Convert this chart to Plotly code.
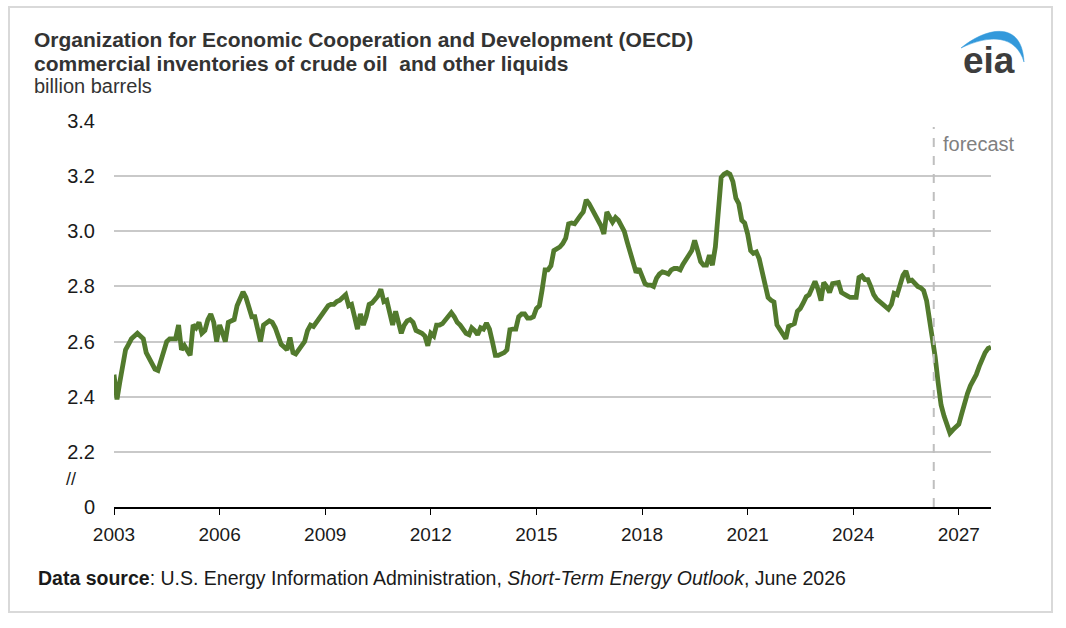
import plotly.graph_objects as go
import pandas as pd

# ---- data (billion barrels, monthly Jan 2003 - Dec 2027) ----
start_month = "2003-01-01"
inventories = [
    2.48, 2.39, 2.45, 2.51, 2.57, 2.59, 2.61, 2.62, 2.63, 2.62, 2.61, 2.56,   # 2003
    2.54, 2.52, 2.50, 2.495, 2.53, 2.57, 2.60, 2.61, 2.61, 2.61, 2.66, 2.57,  # 2004
    2.585, 2.57, 2.55, 2.66, 2.65, 2.67, 2.63, 2.64, 2.68, 2.70, 2.67, 2.60,  # 2005
    2.66, 2.63, 2.60, 2.67, 2.675, 2.68, 2.73, 2.76, 2.78, 2.76, 2.73, 2.69,  # 2006
    2.69, 2.63, 2.60, 2.66, 2.67, 2.675, 2.67, 2.65, 2.62, 2.59, 2.58, 2.57,  # 2007
    2.615, 2.56, 2.555, 2.57, 2.585, 2.60, 2.64, 2.66, 2.655, 2.67, 2.68, 2.70,  # 2008
    2.71, 2.73, 2.735, 2.735, 2.745, 2.75, 2.76, 2.77, 2.73, 2.735, 2.69, 2.645,  # 2009
    2.70, 2.66, 2.69, 2.735, 2.74, 2.75, 2.765, 2.79, 2.745, 2.75, 2.71, 2.66,  # 2010
    2.71, 2.67, 2.63, 2.66, 2.675, 2.68, 2.67, 2.64, 2.635, 2.63, 2.62, 2.585,  # 2011
    2.63, 2.62, 2.66, 2.66, 2.665, 2.68, 2.695, 2.705, 2.69, 2.67, 2.66, 2.643,  # 2012
    2.63, 2.625, 2.65, 2.64, 2.625, 2.65, 2.645, 2.667, 2.645, 2.60, 2.55, 2.55,  # 2013
    2.555, 2.56, 2.57, 2.643, 2.645, 2.645, 2.69, 2.70, 2.70, 2.685, 2.685, 2.69,  # 2014
    2.72, 2.73, 2.787, 2.86, 2.86, 2.875, 2.93, 2.935, 2.943, 2.955, 2.975, 3.027,  # 2015
    3.03, 3.027, 3.045, 3.057, 3.07, 3.114, 3.10, 3.08, 3.063, 3.045, 3.02, 2.99,  # 2016
    3.07, 3.05, 3.033, 3.05, 3.04, 3.02, 3.00, 2.96, 2.92, 2.895, 2.85, 2.865,  # 2017
    2.84, 2.81, 2.805, 2.805, 2.80, 2.83, 2.845, 2.853, 2.85, 2.845, 2.86, 2.865,  # 2018
    2.865, 2.86, 2.88, 2.90, 2.913, 2.93, 2.967, 2.93, 2.89, 2.877, 2.877, 2.913,  # 2019
    2.877, 2.943, 3.08, 3.195, 3.207, 3.213, 3.207, 3.18, 3.12, 3.10, 3.04, 3.03,  # 2020
    2.99, 2.93, 2.92, 2.925, 2.90, 2.85, 2.80, 2.76, 2.75, 2.744, 2.66, 2.643,  # 2021
    2.625, 2.61, 2.655, 2.66, 2.665, 2.71, 2.72, 2.74, 2.763, 2.77, 2.79, 2.818,  # 2022
    2.79, 2.748, 2.814, 2.80, 2.778, 2.81, 2.812, 2.814, 2.778, 2.77, 2.766, 2.76,  # 2023
    2.76, 2.76, 2.832, 2.838, 2.825, 2.825, 2.80, 2.77, 2.754, 2.745, 2.736, 2.73,  # 2024
    2.718, 2.735, 2.775, 2.77, 2.81, 2.84, 2.856, 2.82, 2.823, 2.81, 2.80, 2.795,  # 2025
    2.785, 2.748, 2.688, 2.616, 2.544, 2.45, 2.37, 2.33, 2.298, 2.268, 2.28, 2.29,  # 2026
    2.30, 2.34, 2.38, 2.412, 2.44, 2.46, 2.48, 2.51, 2.54, 2.56, 2.575, 2.58,  # 2027
]
months = pd.date_range(start_month, periods=len(inventories), freq="MS")

tick_years = [2003, 2006, 2009, 2012, 2015, 2018, 2021, 2024, 2027]
y_tickvals = [2.0, 2.2, 2.4, 2.6, 2.8, 3.0, 3.2, 3.4]
y_ticktext = ["0", "2.2", "2.4", "2.6", "2.8", "3.0", "3.2", "3.4"]
forecast_start = "2026-04-16"

# ---- geometry helpers (pixels -> paper) ----
W, H = 1066, 628
PL, PR, PT, PB = 114, 991, 121, 507
def px(x):
    return (x - PL) / (PR - PL)
def py(y):
    return (PB - y) / (PB - PT)

FONT = "Liberation Sans, Arial, sans-serif"
GREEN = "#527a2d"

fig = go.Figure()
fig.add_trace(go.Scatter(
    x=months, y=inventories, mode="lines",
    line=dict(color=GREEN, width=4.8, shape="linear"),
    hoverinfo="x+y", showlegend=False,
))

fig.update_layout(
    width=W, height=H,
    margin=dict(l=PL, r=W - PR, t=PT, b=H - PB, pad=0),
    paper_bgcolor="white", plot_bgcolor="white",
    font=dict(family=FONT, color="#1a1a1a"),
    xaxis=dict(
        type="date",
        range=[months[0], months[-1]],
        tickvals=[f"{y}-01-01" for y in tick_years],
        ticktext=[str(y) for y in tick_years],
        ticks="outside", ticklen=6, tickwidth=1.3, tickcolor="#000000",
        showline=True, linecolor="#000000", linewidth=1.6,
        showgrid=False, zeroline=False,
        tickfont=dict(size=19, family=FONT, color="#1a1a1a"),
        ticklabelstandoff=3,
    ),
    yaxis=dict(
        range=[2.0, 3.4],
        tickvals=y_tickvals, ticktext=y_ticktext,
        ticks="", showline=False, zeroline=False,
        showgrid=True, gridcolor="#c9c9c9", gridwidth=1.6,
        tickfont=dict(size=20, family=FONT, color="#1a1a1a"),
        ticklabelstandoff=18,
    ),
)

shapes = []
# outer border
shapes.append(dict(type="rect", xref="paper", yref="paper",
                   x0=px(9), x1=px(1052), y0=py(612), y1=py(7),
                   line=dict(color="#d9d9d9", width=2), fillcolor="rgba(0,0,0,0)", layer="below"))
# forecast divider
shapes.append(dict(type="line", xref="x", yref="paper",
                   x0=forecast_start, x1=forecast_start, y0=0, y1=py(127),
                   line=dict(color="#bfbfbf", width=2, dash="dash")))
# eia swoosh
def P(x, y):
    return f"{px(x):.5f},{py(y):.5f}"
swoosh = (f"M {P(961,48)} C {P(985,28)} {P(1022,19)} {P(1024,62)} "
          f"C {P(1016,35)} {P(990,34)} {P(961,48)} Z")
shapes.append(dict(type="path", xref="paper", yref="paper", path=swoosh,
                   fillcolor="#3399db", line=dict(color="#3399db", width=0.5)))
fig.update_layout(shapes=shapes)

ann = []
ann.append(dict(text="<b>Organization for Economic Cooperation and Development (OECD)</b>",
                x=px(32), y=py(40), xanchor="left", yanchor="middle",
                font=dict(size=21, color="#333333")))
ann.append(dict(text="<b>commercial inventories of crude oil  and other liquids</b>",
                x=px(32), y=py(63.5), xanchor="left", yanchor="middle",
                font=dict(size=21, color="#333333")))
ann.append(dict(text="billion barrels",
                x=px(32), y=py(86.5), xanchor="left", yanchor="middle",
                font=dict(size=20, color="#333333")))
ann.append(dict(text="forecast", x=px(941), y=py(144), xanchor="left", yanchor="middle",
                font=dict(size=20, color="#808080")))
ann.append(dict(text="//", x=px(71), y=py(479), xanchor="center", yanchor="middle",
                font=dict(size=18, color="#1a1a1a")))
ann.append(dict(text="<b>Data source</b>: U.S. Energy Information Administration, "
                     "<i>Short-Term Energy Outlook</i>, June 2026",
                x=px(36), y=py(578), xanchor="left", yanchor="middle",
                font=dict(size=19.5, color="#1a1a1a")))
ann.append(dict(text="<b>eia</b>", x=px(989), y=py(60), xanchor="center", yanchor="middle",
                font=dict(size=37, color="#3d3d3d")))
for a in ann:
    a.update(xref="paper", yref="paper", showarrow=False)
fig.update_layout(annotations=ann)

fig.write_html("out.html")
